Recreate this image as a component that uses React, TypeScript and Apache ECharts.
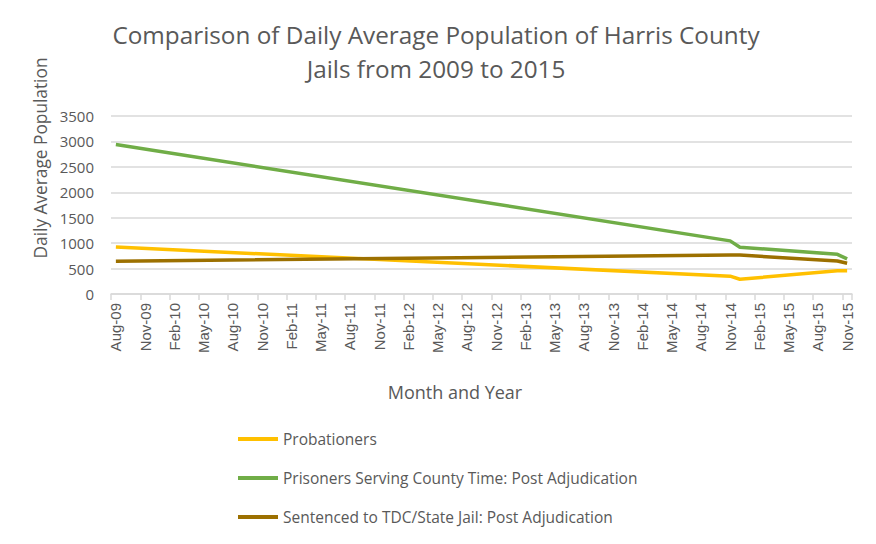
import React, { useEffect, useRef } from "react";
import * as echarts from "echarts";

const months: string[] = [
  "Aug-09", "Sep-09", "Oct-09", "Nov-09", "Dec-09",
  "Jan-10", "Feb-10", "Mar-10", "Apr-10", "May-10", "Jun-10", "Jul-10", "Aug-10", "Sep-10", "Oct-10", "Nov-10", "Dec-10",
  "Jan-11", "Feb-11", "Mar-11", "Apr-11", "May-11", "Jun-11", "Jul-11", "Aug-11", "Sep-11", "Oct-11", "Nov-11", "Dec-11",
  "Jan-12", "Feb-12", "Mar-12", "Apr-12", "May-12", "Jun-12", "Jul-12", "Aug-12", "Sep-12", "Oct-12", "Nov-12", "Dec-12",
  "Jan-13", "Feb-13", "Mar-13", "Apr-13", "May-13", "Jun-13", "Jul-13", "Aug-13", "Sep-13", "Oct-13", "Nov-13", "Dec-13",
  "Jan-14", "Feb-14", "Mar-14", "Apr-14", "May-14", "Jun-14", "Jul-14", "Aug-14", "Sep-14", "Oct-14", "Nov-14", "Dec-14",
  "Jan-15", "Feb-15", "Mar-15", "Apr-15", "May-15", "Jun-15", "Jul-15", "Aug-15", "Sep-15", "Oct-15", "Nov-15",
];

const seriesNames = [
  "Probationers",
  "Prisoners Serving County Time: Post Adjudication",
  "Sentenced to TDC/State Jail: Post Adjudication",
];

const probationers: [string, number][] = [
  ["Aug-09", 925], ["Nov-14", 350], ["Dec-14", 290], ["Oct-15", 455], ["Nov-15", 455],
];
const countyTime: [string, number][] = [
  ["Aug-09", 2940], ["Nov-14", 1045], ["Dec-14", 920], ["Oct-15", 780], ["Nov-15", 690],
];
const sentencedTDC: [string, number][] = [
  ["Aug-09", 645], ["Nov-14", 768], ["Dec-14", 765], ["Oct-15", 650], ["Nov-15", 605],
];

const colors = ["#FFC000", "#70AD47", "#9C7000"];
const FONT = "'Open Sans', Lato, sans-serif";
const LABEL_FONT = "'Liberation Sans', Arial, sans-serif";

export default function App() {
  const ref = useRef<HTMLDivElement>(null);
  useEffect(() => {
    if (!ref.current) return;
    const chart = echarts.init(ref.current, undefined, { renderer: "svg" });
    const mk = (name: string, data: [string, number][], color: string) => ({
      name,
      type: "line",
      data,
      symbol: "none",
      color,
      lineStyle: { color, width: 3.5 },
    });
    chart.setOption({
      animation: false,
      backgroundColor: "#ffffff",
      textStyle: { fontFamily: FONT },
      title: {
        text: "Comparison of Daily Average Population of Harris County\nJails from 2009 to 2015",
        left: 423,
        top: 4,
        textAlign: "center",
        textStyle: {
          fontFamily: FONT,
          fontSize: 24.3,
          fontWeight: "normal",
          color: "#595959",
          lineHeight: 34,
        },
      },
      grid: { left: 103, top: 108, width: 741, height: 178, containLabel: false },
      xAxis: {
        type: "category",
        data: months,
        boundaryGap: true,
        name: "Month and Year",
        nameLocation: "middle",
        nameGap: 89,
        nameTextStyle: { fontSize: 18, color: "#595959", fontFamily: FONT, padding: [0, 53, 0, 0] },
        axisLine: { lineStyle: { color: "#d9d9d9", width: 1.5 } },
        axisTick: { show: true, interval: 2, length: 6, lineStyle: { color: "#d9d9d9", width: 1.5 } },
        axisLabel: { interval: 2, rotate: 90, fontSize: 15, color: "#595959", fontFamily: LABEL_FONT, margin: 9 },
        splitLine: { show: false },
      },
      yAxis: {
        type: "value",
        min: 0,
        max: 3500,
        interval: 500,
        name: "Daily Average Population",
        nameLocation: "middle",
        nameGap: 52,
        nameTextStyle: { fontSize: 17.3, color: "#595959", fontFamily: FONT, padding: [0, 0, 0, 94] },
        axisLine: { show: false },
        axisTick: { show: false },
        axisLabel: {
          fontSize: 15,
          color: "#595959",
          fontFamily: FONT,
          margin: 17,
          formatter: (v: number) => String(v),
        },
        splitLine: { lineStyle: { color: "#d9d9d9", width: 1.5 } },
      },
      legend: {
        orient: "vertical",
        left: 225,
        top: 418,
        itemGap: 23,
        itemWidth: 40,
        itemHeight: 4,
        icon: "rect",
        data: seriesNames,
        textStyle: { fontSize: 15.5, color: "#595959", fontFamily: FONT },
      },
      series: [
        mk(seriesNames[0], probationers, colors[0]),
        mk(seriesNames[1], countyTime, colors[1]),
        mk(seriesNames[2], sentencedTDC, colors[2]),
      ],
    });
    return () => chart.dispose();
  }, []);
  return <div ref={ref} style={{ width: 860, height: 528 }} />;
}
